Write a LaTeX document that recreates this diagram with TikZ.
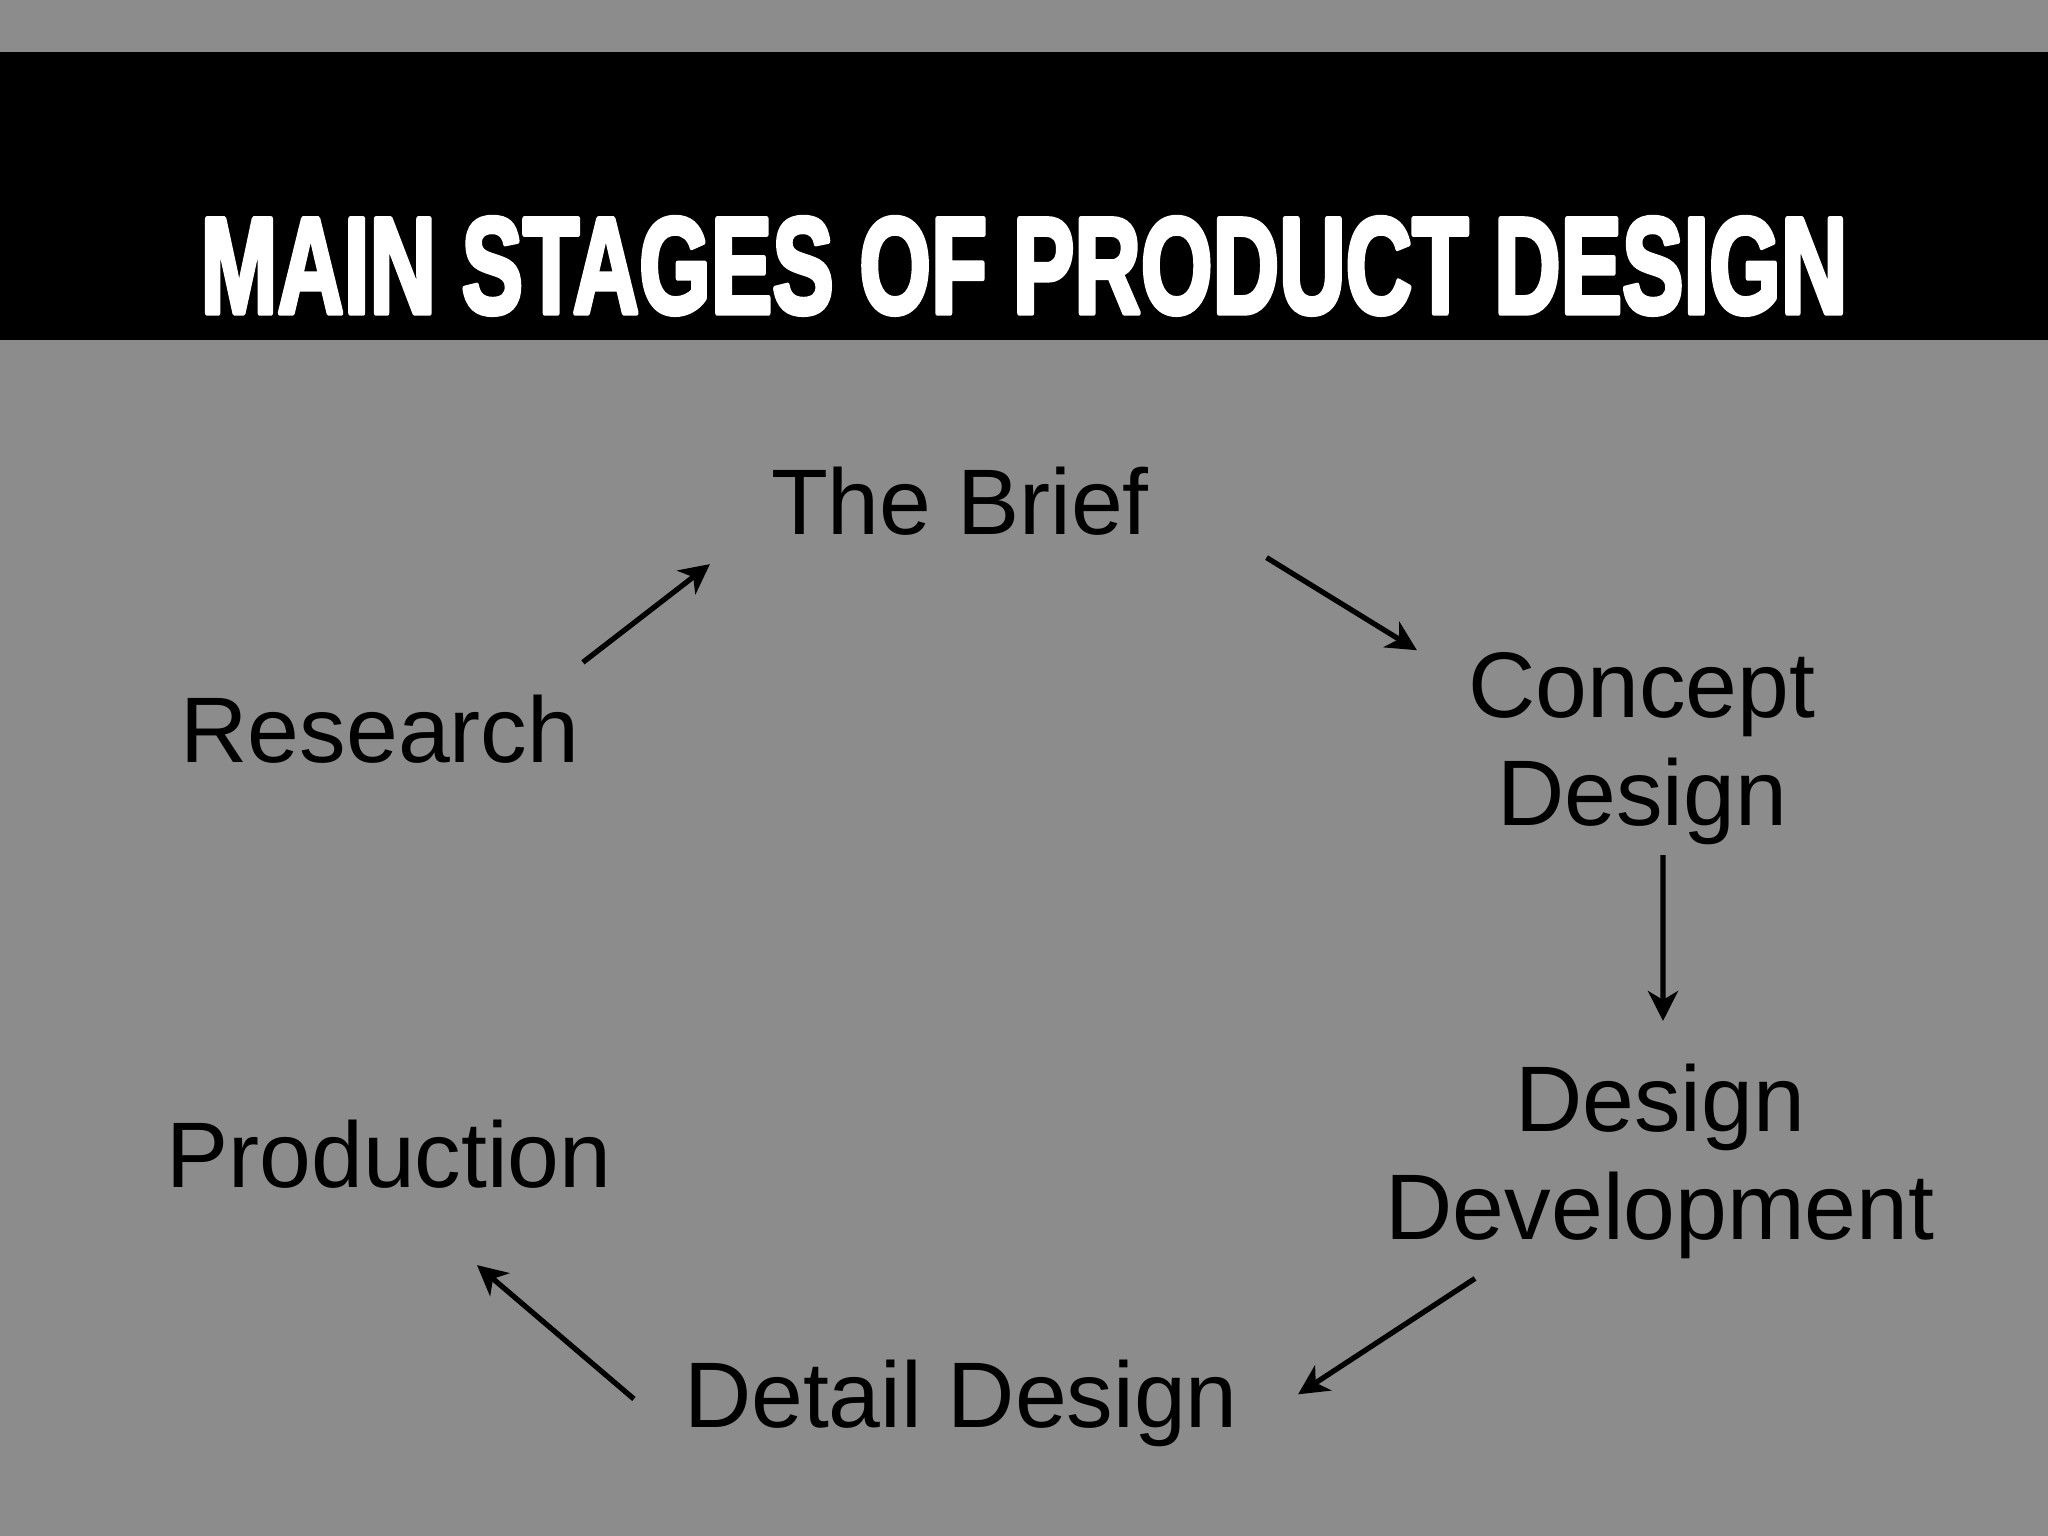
\documentclass[tikz,border=0pt]{standalone}
\usepackage{fontspec}
\setmainfont{Liberation Sans}
\newfontfamily\titlefont[BoldFeatures={FakeBold=4}]{Liberation Sans}
\usepackage{tikz}
\usetikzlibrary{arrows.meta,positioning,calc}
\usepackage{xcolor}
\colorlet{bg}{black!45}
\colorlet{band}{black}

\begin{document}
\begin{tikzpicture}[->, >={Stealth[length=8.5pt,width=8.5pt,inset=2.5pt]}, line width=1.5pt, on grid, node distance=2cm]
\tikzstyle{stage}=[font=\fontsize{26.5}{30.7}\selectfont, inner sep=0pt, text=black]
\tikzstyle{oneline}=[stage, text height=0.68cm, text depth=0.2cm]
\tikzstyle{twoline}=[stage, align=center]
\fill[bg] (0,0) rectangle (20.48,15.36);
\fill[band] (0,11.96) rectangle (20.48,14.84);
% round joins keep the fake bold title free of spikes
\begin{scope}[line join=round, miter limit=1]
\node[anchor=base, text=white, inner sep=0pt] (title) at (10.24,12.23)
  {\scalebox{0.674}[1]{\fontsize{38.9}{40}\titlefont\bfseries MAIN STAGES OF PRODUCT DESIGN}};
\end{scope}
\node[oneline] (research) at (3.80,7.97) {Research};
\node[oneline] (brief) [above right=2.28cm and 5.80cm of research] {The Brief};
\node[twoline] (concept) [below right=2.38cm and 6.82cm of brief] {Concept\\Design};
\node[twoline] (devel) [below right=4.12cm and 0.18cm of concept] {Design\\Development};
\node[oneline] (detail) [below left=2.43cm and 6.99cm of devel] {Detail Design};
\node[oneline] (production) [above left=2.40cm and 5.72cm of detail] {Production};
\draw ([shift={(0.01,0.30)}]research.north east) -- ([shift={(-0.585,-0.065)}]brief.south west);
\draw ([xshift=11.5mm]brief.south east) -- ([xshift=-4.9mm]concept.north west);
\draw ([shift={(0.21,-0.075)}]concept.south) -- ([shift={(0.03,0.40)}]devel.north);
\draw ([shift={(-1.85,-0.175)}]devel.south) -- ([shift={(0.575,-0.37)}]detail.north east);
\draw ([shift={(-0.475,0.05)}]detail.west) -- ([shift={(0.88,-0.545)}]production.south);
\end{tikzpicture}
\end{document}
